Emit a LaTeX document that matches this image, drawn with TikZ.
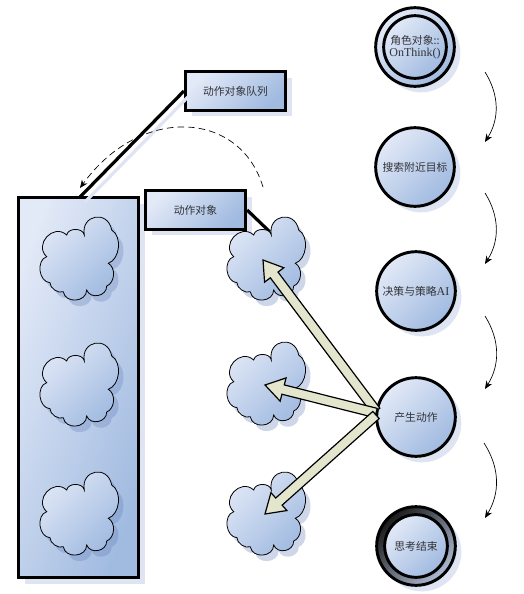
\documentclass[tikz,border=0pt]{standalone}
\usepackage{fontspec}
\setmainfont{Liberation Serif}
\newfontfamily\cjk{Noto Sans CJK SC}
\usetikzlibrary{calc,shadows,arrows.meta}
\definecolor{shadowc}{RGB}{222,228,242}
\definecolor{cloudshadow}{RGB}{95,125,185}
\definecolor{lightb}{RGB}{226,233,247}
\definecolor{darkb}{RGB}{160,186,224}
\definecolor{arrowf}{RGB}{228,229,205}
\definecolor{txt}{RGB}{50,50,55}
\definecolor{ringlight}{RGB}{175,188,212}
\tikzset{
  grad/.style={left color=lightb,right color=darkb,shading angle=45},
  shad/.style={drop shadow={shadow xshift=4.5pt,shadow yshift=-4.5pt,fill=shadowc,opacity=1}},
  boxnode/.style={draw=black,line width=2.4pt,grad,shad,minimum width=75pt,minimum height=29pt,inner sep=0pt,text=txt,font=\cjk\fontsize{8.1}{9}\selectfont},
  roundnode/.style={circle,draw=black,line width=2.2pt,grad,shad,minimum size=59pt,inner sep=0pt,text=txt,align=center,font=\cjk\fontsize{8.1}{9.5}\selectfont},
  innernode/.style={circle,draw=black,line width=2.2pt,grad,minimum size=47pt,inner sep=0pt,text=txt,align=center,font=\cjk\fontsize{8.1}{10}\selectfont},
  link/.style={draw=black,line width=2.4pt},
  linkshadow/.style={draw=shadowc,line width=2.4pt},
  flow/.style={draw=black,line width=0.5pt,-{Stealth[length=6pt,width=5pt]}},
  dashflow/.style={draw=black,line width=0.5pt,dash pattern=on 5pt off 3pt,-{Stealth[length=6pt,width=5pt]}},
  bigarrow/.style={draw=black,line width=0.9pt,fill=arrowf,line join=miter}
}
\newcommand{\cloudpath}{%
  (8.7,36.7) to[bend left=90,looseness=1.55] (28.7,15) to[bend left=80,looseness=1.1] (46.3,15)
  to[bend left=90,looseness=1.9] (73.7,10) to[bend left=65,looseness=.95] (70.3,43.3)
  to[bend left=65,looseness=1] (68.7,66) to[bend left=80,looseness=1.3] (48.7,70)
  to[bend left=85,looseness=1.35] (25.3,71.7) to[bend left=60,looseness=.85] (12,62.7)
  to[bend left=80,looseness=1.1] (8.7,36.7) -- cycle}
\newcommand{\cloudat}[3]{%
  \begin{scope}[shift={(#2,#3)}]
    \fill[cloudshadow,opacity=0.3] [shift={(5,6)}] \cloudpath;
    \draw[black,line width=0.6pt,grad] \cloudpath;
    \node[coordinate] (#1) at (40,40) {};
  \end{scope}}
% start, tip
\newcommand{\bigarr}[2]{%
  \path coordinate (nk) at ($(#2)!14pt!(#1)$);
  \draw[bigarrow]
    ($(#1)!3.6pt!90:(#2)$) -- ($(nk)!3.6pt!-90:(#1)$) -- ($(nk)!9pt!-90:(#1)$)
    -- (#2) -- ($(nk)!9pt!90:(#1)$) -- ($(nk)!3.6pt!90:(#1)$)
    -- ($(#1)!3.6pt!-90:(#2)$) -- cycle;}
\begin{document}
\begin{tikzpicture}[x=0.75pt,y=-0.75pt]
\useasboundingbox (0,0) rectangle (524,594);
\fill[white] (0,0) rectangle (524,594);

% queue rectangle
\node[draw=black,line width=2.4pt,left color=lightb,right color=darkb,shading angle=70,shad,minimum width=90pt,minimum height=285pt,inner sep=0pt] (queue) at (78.5,387.5) {};

% labels
\node[boxnode] (lq) at (235.5,91) {动作对象队列};
\node[boxnode] (lo) at (195.5,210) {动作对象};

% clouds
\cloudat{q1}{38}{220}
\cloudat{q2}{38}{346}
\cloudat{q3}{38}{475}

% connector to queue
\coordinate (qt) at (80,197);
\draw[linkshadow] ([shift={(5,5)}]lq.west) -- ([shift={(5,5)}]qt);
\draw[link] (lq.west) -- (qt);
\coordinate (ct) at (270,232);
\draw[link] (lo.east) -- (ct);

\cloudat{o1}{225}{220}
\cloudat{o2}{225}{345}
\cloudat{o3}{225}{475}

% dashed move
\coordinate (ds) at (263,187);
\coordinate (de) at (80,188);
\draw[dashflow] (ds) .. controls (240,110) and (140,105) .. (de);

% state circles
\node[roundnode] (s1) at (415,47) {};
\node[innernode] (s1i) at (s1) {角色对象::\\[-1pt]{\rmfamily\fontsize{9}{10}\selectfont OnThink()}};
\node[roundnode] (s2) at (415,167) {搜索附近目标};
\node[roundnode] (s3) at (416,291) {决策与策略{\rmfamily\fontsize{9}{10}\selectfont AI}};
\node[roundnode] (s4) at (416,417) {产生动作};
\node[roundnode,left color=black!90,right color=ringlight,shading angle=45] (s5) at (416,546) {};
\node[innernode] (s5i) at (s5) {思考结束};

% flow arrows
\coordinate (a1) at (485,72);  \coordinate (b1) at (485,142);
\coordinate (a2) at (485,193); \coordinate (b2) at (485,264);
\coordinate (a3) at (485,316); \coordinate (b3) at (485,389);
\coordinate (a4) at (484,443); \coordinate (b4) at (485,518);
\draw[flow] (a1) to[bend left=32] (b1);
\draw[flow] (a2) to[bend left=32] (b2);
\draw[flow] (a3) to[bend left=32] (b3);
\draw[flow] (a4) to[bend left=32] (b4);

% big arrows
\coordinate (t1) at (263,260);
\coordinate (t2) at (265,385);
\coordinate (t3) at (265,514);
\coordinate (f1) at (376,411);
\coordinate (f2) at (376,413);
\coordinate (f3) at (376,415);
\bigarr{f1}{t1}
\bigarr{f2}{t2}
\bigarr{f3}{t3}
\end{tikzpicture}
\end{document}
